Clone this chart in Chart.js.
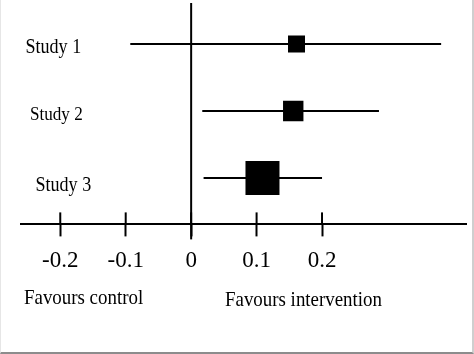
<!DOCTYPE html>
<html>
<head>
<meta charset="utf-8">
<script src="https://cdn.jsdelivr.net/npm/chart.js@4"></script>
<style>
  html, body { margin: 0; padding: 0; background: #fff; }
  #wrap {
    position: relative;
    width: 474px;
    height: 354px;
    box-sizing: border-box;
    border-left: 1px solid #e6e6e6;
    border-right: 2px solid #cfcfcf;
    border-bottom: 2px solid #8c8c8c;
  }
</style>
</head>
<body>
<div id="wrap"><canvas id="Graph"></canvas></div>
<script>
// Forest plot data
var studies = ['Study 1', 'Study 2', 'Study 3'];
var rows = [3, 2, 1];
var estimates = [0.161, 0.156, 0.109];
var lowerCI = [-0.093, 0.017, 0.019];
var upperCI = [0.382, 0.287, 0.200];
var weights = [0.5, 0.6, 1.0];
var tickValues = [-0.2, -0.1, 0, 0.1, 0.2];
var leftNote = 'Favours control';
var rightNote = 'Favours intervention';

var serif = '"Liberation Serif", "Times New Roman", serif';

// one line dataset for each confidence interval
var datasets = [];
for (var i = 0; i < studies.length; i++) {
  datasets.push({
    type: 'line',
    label: studies[i],
    data: [{x: lowerCI[i], y: rows[i]}, {x: upperCI[i], y: rows[i]}],
    borderColor: '#000',
    borderWidth: 2,
    pointRadius: 0,
    fill: false
  });
}
// boxes for the estimates, size follows the weight
datasets.push({
  type: 'scatter',
  label: 'Estimate',
  data: estimates.map(function (e, i) { return {x: e, y: rows[i]}; }),
  pointStyle: 'rect',
  pointRadius: weights.map(function (w) { return 34 * w / Math.SQRT2; }),
  backgroundColor: '#000',
  borderWidth: 0
});

// zero line, tick marks above the axis, study names and notes
var forestExtras = {
  id: 'forestExtras',
  afterDraw: function (chart) {
    var ctx = chart.ctx;
    var xs = chart.scales.x;
    var ys = chart.scales.y;
    var area = chart.chartArea;
    ctx.save();
    ctx.strokeStyle = '#000';
    ctx.lineWidth = 2;
    var x0 = xs.getPixelForValue(0);
    ctx.beginPath();
    ctx.moveTo(x0, area.top);
    ctx.lineTo(x0, area.bottom + 15);
    ctx.stroke();
    tickValues.forEach(function (t) {
      var px = xs.getPixelForValue(t);
      ctx.beginPath();
      ctx.moveTo(px, area.bottom - 12);
      ctx.lineTo(px, area.bottom);
      ctx.stroke();
    });

    ctx.fillStyle = '#000';
    ctx.textBaseline = 'alphabetic';
    var nameX = [24.5, 29, 34.5];
    var nameSize = [21, 19, 21];
    var nameDy = [9.5, 9, 13];
    studies.forEach(function (s, i) {
      ctx.save();
      ctx.translate(nameX[i], ys.getPixelForValue(rows[i]) + nameDy[i]);
      ctx.scale(i == 1 ? 0.9 : 0.86, 1);
      ctx.font = nameSize[i] + 'px ' + serif;
      ctx.fillText(s, 0, 0);
      ctx.restore();
    });

    ctx.font = '21px ' + serif;
    ctx.save();
    ctx.translate(23, 304);
    ctx.scale(0.9, 1);
    ctx.fillText(leftNote, 0, 0);
    ctx.restore();
    ctx.save();
    ctx.translate(224, 306);
    ctx.scale(0.9, 1);
    ctx.fillText(rightNote, 0, 0);
    ctx.restore();
    ctx.restore();
  }
};

var chart = new Chart(document.getElementById('Graph').getContext('2d'), {
  data: { datasets: datasets },
  options: {
    responsive: true,
    maintainAspectRatio: false,
    animation: false,
    layout: { autoPadding: false, padding: { left: 20, right: 6, top: 3, bottom: 66 } },
    plugins: {
      legend: { display: false },
      tooltip: { enabled: false }
    },
    scales: {
      x: {
        type: 'linear',
        min: -0.26,
        max: 0.42,
        afterBuildTicks: function (axis) {
          axis.ticks = tickValues.map(function (v) { return {value: v}; });
        },
        ticks: {
          color: '#000',
          padding: 11,
          maxRotation: 0,
          autoSkip: false,
          font: { family: serif, size: 23 },
          callback: function (v) { return String(v); }
        },
        grid: {
          drawOnChartArea: false,
          drawTicks: true,
          tickLength: 12,
          tickWidth: 2,
          tickColor: '#000'
        },
        border: { display: true, color: '#000', width: 2 }
      },
      y: {
        type: 'linear',
        display: false,
        min: 0.31,
        max: 3.61
      }
    }
  },
  plugins: [forestExtras]
});
</script>
</body>
</html>
